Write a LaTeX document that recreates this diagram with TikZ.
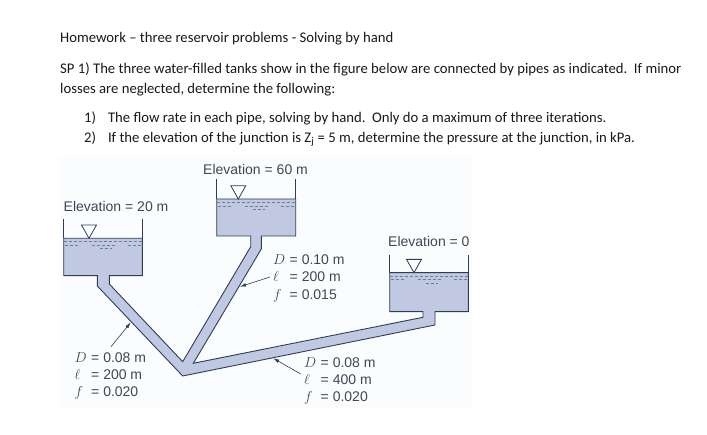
\documentclass[tikz,border=0pt]{standalone}
\usepackage{fontspec}
\setmainfont{Liberation Sans}
\newfontfamily\headfont{Carlito}
\usetikzlibrary{positioning,arrows.meta}
\definecolor{water}{HTML}{C0C9E1}
\definecolor{outline}{HTML}{2E3D5C}
\definecolor{figtext}{HTML}{3F4756}
\definecolor{figback}{HTML}{FBFCFD}
\tikzset{
  headtext/.style={inner sep=0pt, text height=10pt, text depth=3pt, font=\headfont\fontsize{14.7}{15}\selectfont, text=black!90},
  figlabel/.style={inner sep=0pt, font=\fontsize{14}{17}\selectfont, text=figtext},
  pipedata/.style={figlabel, align=left},
  tankline/.style={outline, line width=0.9pt},
  leader/.style={outline, line width=0.6pt, -{Latex[length=6pt,width=3.6pt]}},
  ripple/.style={outline!55!water, line width=0.7pt, dash pattern=on 3pt off 2pt}
}
\newcommand{\pipetext}[4]{\renewcommand{\arraystretch}{1}\setlength{\tabcolsep}{0pt}\begin{tabular}{ll}\makebox[16.5pt][l]{\fontsize{15.5}{17}\selectfont$#1$}&= #2\\[0.2pt]\makebox[16.5pt][l]{\fontsize{15.5}{17}\selectfont$\ell$}&= #3 m\\[0.2pt]\makebox[16.5pt][l]{\fontsize{15.5}{17}\selectfont$f$}&= #4\end{tabular}}
\begin{document}
\begin{tikzpicture}[x=1pt, y=-1pt]
  \useasboundingbox (0,0) rectangle (707,435);
  \fill [white] (0,0) rectangle (707,435);
  \fill [figback] (60,157) rectangle (472,408);
  % text above the figure
  \node [headtext, anchor=west] (title) at (60,39.5) {Homework – three reservoir problems - Solving by hand};
  \node [headtext, below right=17pt and 0pt of title.south west] (intro) {SP 1) The three water-filled tanks show in the figure below are connected by pipes as indicated.\ \ If minor};
  \node [headtext, below right=7pt and 0pt of intro.south west] (introb) {losses are neglected, determine the following:};
  \node [headtext, anchor=west] (numa) at (84,119.5) {1)};
  \node [headtext, anchor=west, right=11.5pt of numa] (itema) {The flow rate in each pipe, solving by hand.\ \ Only do a maximum of three iterations.};
  \node [headtext, below right=6pt and 0pt of numa.south west] (numb) {2)};
  \node [headtext, anchor=west, right=11.5pt of numb] (itemb) {If the elevation of the junction is Z\textsubscript{j} = 5 m, determine the pressure at the junction, in kPa.};
  % tanks and pipes
  \draw [tankline, fill=water, line join=miter]
    (63.7,238.3) -- (63.7,275.7) -- (97.3,275.7) -- (97.3,286) -- (182.7,376)
    -- (435,325) -- (435,311.7) -- (468.3,311.7) -- (468.3,272.7) -- (389.7,272.7)
    -- (389.7,311.7) -- (423,311.7) -- (423,317.3) -- (193.3,363.3) -- (261.3,249)
    -- (261.3,236) -- (295.7,236) -- (295.7,199) -- (216.7,199) -- (216.7,236)
    -- (250.7,236) -- (250.7,246.7) -- (182.7,361.7) -- (109.3,284) -- (109.3,275.7)
    -- (142.3,275.7) -- (142.3,238.3) -- cycle;
  \foreach \wx/\wy/\mx/\top in {63.7/238.3/89/218.7, 216.7/199/238.3/179, 389.7/272.7/414/255} {
    \draw [tankline] (\wx,\top) -- (\wx,\wy);
    \draw [tankline] (\wx+78.6,\top) -- (\wx+78.6,\wy);
    \draw [ripple] (\wx,\wy+3.5) -- (\wx+78.6,\wy+3.5);
    \draw [ripple] (\wx+1,\wy+7) -- (\wx+15,\wy+7);
    \draw [ripple] (\wx+28,\wy+7) -- (\wx+52,\wy+7);
    \draw [ripple] (\wx+64,\wy+7) -- (\wx+78,\wy+7);
    \draw [ripple] (\wx+36,\wy+10.5) -- (\wx+48,\wy+10.5);
    \draw [outline, fill=white, line width=0.8pt, line join=miter]
      (\mx,\wy) -- (\mx-7.5,\wy-13.3) -- (\mx+7.5,\wy-13.3) -- cycle;
  }
  % labels
  \node [figlabel, anchor=west] (eltop) at (203,169) {Elevation = 60 m};
  \node [figlabel, anchor=west] (elleft) at (63.5,206.5) {Elevation = 20 m};
  \node [figlabel, anchor=west] (elright) at (388,241.5) {Elevation = 0};
  \node [pipedata, anchor=west] (datatop) at (273,278.5) {\pipetext{D}{0.10 m}{200}{0.015}};
  \node [pipedata, anchor=west] (dataleft) at (74.5,376) {\pipetext{D}{0.08 m}{200}{0.020}};
  \node [pipedata, anchor=west] (databot) at (304,381) {\pipetext{D}{0.08 m}{400}{0.020}};
  % arrows to the pipes
  \coordinate (pipetop) at (240,286.7);
  \coordinate (pipeleft) at (130.7,322.5);
  \coordinate (pipebot) at (273.3,358.3);
  \coordinate (starttop) at (270,277);
  \coordinate (startleft) at (111,346.7);
  \coordinate (startbot) at (300.7,374);
  \draw [leader] (starttop) -- (pipetop);
  \draw [leader] (startleft) -- (pipeleft);
  \draw [leader] (startbot) -- (pipebot);
\end{tikzpicture}
\end{document}
